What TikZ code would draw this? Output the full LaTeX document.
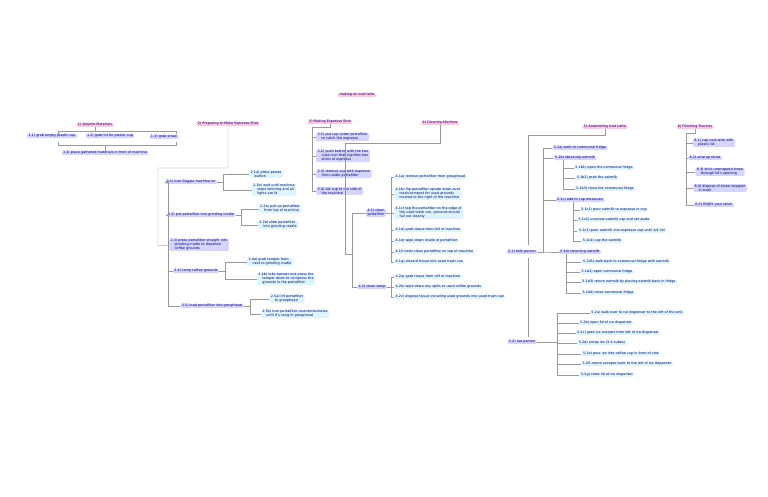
\documentclass[tikz,border=0pt]{standalone}
\usepackage{fontspec}
\setmainfont{DejaVu Sans}
\begin{document}
\begin{tikzpicture}[x=1pt,y=-1pt,
 every node/.style={font=\fontsize{3.4}{4.0}\selectfont,text=blue!35!black,inner xsep=1.5pt,inner ysep=0.6pt,rounded corners=1.5pt,align=left},
 top/.style={fill=magenta!22},
 mid/.style={fill=blue!17},
 leaf/.style={fill=cyan!13},
 ln/.style={draw=gray!80,line width=0.45pt}]
\fill[white] (0,0) rectangle (768,497);
\node[top] (t) at (357,95) {making an iced latte};
% 1
\node[top] (a) at (95,125) {1) Acquire Materials};
\node[mid] (a1) at (52,136) {1.1) grab empty plastic cup};
\node[mid] (a2) at (110,136) {1.2) grab lid for plastic cup};
\node[mid] (a3) at (164,137) {1.3) grab straw};
\node[mid] (a4) at (105,153) {1.4) place gathered materials in front of machine};
\coordinate (ab1) at (58,131); \coordinate (ab2) at (176,131);
\draw[ln] (a.south) -- (a.south|-ab1);
\draw[ln] (ab1)++(0,3) -- (ab1) -- (ab2) -- ++(0,3);
\coordinate (ac1) at (58,145); \coordinate (ac2) at (176,145);
\draw[ln] (ac1)++(0,-3) -- (ac1) -- (ac2) -- ++(0,-3);
\draw[ln] (a4.north|-ac1) -- (a4.north);
% 2
\node[top] (b) at (228,124) {2) Preparing to Make Espresso Shot};
\node[mid] (b1) at (191,182) {2.1) turn Gaggia machine on};
\node[mid] (b2) at (201,215) {2.2) put portafilter into grinding cradle};
\node[mid] (b3) at (199,245) {2.3) press portafilter straight into\\\hspace*{4pt}grinding cradle to dispense\\\hspace*{4pt}coffee grounds};
\node[mid] (b4) at (196,271) {2.4) tamp coffee grounds};
\node[mid] (b5) at (212,306) {2.5) load portafilter into grouphead};
\coordinate (bs) at (158,168);
\draw[ln] (b.south) |- (bs) -- (158,246) -- (b3.west);
\coordinate (bs2) at (168,180);
\draw[ln] (bs2) -- (168,306) -- (b5.west);
\foreach \n in {b1,b2,b4} \draw[ln] (bs2|-\n.west) -- (\n.west);
\node[leaf] (b11) at (266,174) {2.1a) press power\\\hspace*{4pt}button};
\node[leaf] (b12) at (274,190) {2.1b) wait until machine\\\hspace*{4pt}stops whirring and all\\\hspace*{4pt}lights are lit};
\node[leaf] (b21) at (280,209) {2.2a) pull up portafilter\\\hspace*{4pt}from top of machine};
\node[leaf] (b22) at (278,225) {2.2b) slide portafilter\\\hspace*{4pt}into grinding cradle};
\node[leaf] (b41) at (270,262) {2.4a) grab tamper from\\\hspace*{4pt}next to grinding cradle};
\node[leaf] (b42) at (286,279) {2.4b) take tamper and press the\\\hspace*{4pt}tamper down to compress the\\\hspace*{4pt}grounds in the portafilter};
\node[leaf] (b51) at (287,299) {2.5a) lift portafilter\\\hspace*{4pt}to grouphead};
\node[leaf] (b52) at (295,314) {2.5b) turn portafilter counterclockwise\\\hspace*{4pt}until it's snug in grouphead};
\foreach \p/\c in {b1/b11,b1/b12,b2/b21,b2/b22,b4/b41,b4/b42,b5/b51,b5/b52}
 \draw[ln] (\p.east) -- ++(6,0) |- (\c.west);
% 3
\node[top] (c) at (330,122) {3) Making Espresso Shot};
\node[mid,anchor=west] (c1) at (316,137) {3.1) put cup under portafilter\\\hspace*{4pt}to catch the espresso};
\node[mid,anchor=west] (c2) at (316,156) {3.2) push button with the two\\\hspace*{4pt}cups icon that signifies two\\\hspace*{4pt}shots of espresso};
\node[mid,anchor=west] (c3) at (316,174) {3.3) remove cup with espresso\\\hspace*{4pt}from under portafilter};
\node[mid,anchor=west] (c4) at (316,191) {3.4) set cup to the side of\\\hspace*{4pt}the machine};
\draw[ln] (c.south) -- ++(0,3) -| (312,191) -- (c4.west);
\foreach \n in {c1,c2,c3} \draw[ln] (312,0|-\n.west) -- (\n.west);
% 4
\node[top] (d) at (440,123) {4) Cleaning Machine};
\node[mid] (d1) at (376,213) {4.1) clean\\portafilter};
\node[mid] (d2) at (372,287) {4.2) clean tamp};
\draw[ln] (d.south) -- ++(0,18) -| (345,254) -- (352,254) |- (d2.west);
\draw[ln] (352,254) |- (d1.west);
\foreach \n/\y/\t in {d11/177/{4.1a) remove portafilter from grouphead},
 d12/194/{4.1b) flip portafilter upside down over\\\hspace*{4pt}trash/compost for used grounds\\\hspace*{4pt}located to the right of the machine},
 d13/213/{4.1c) tap the portafilter on the edge of\\\hspace*{4pt}the used trash can, grounds should\\\hspace*{4pt}fall out cleanly},
 d14/230/{4.1d) grab tissue from left of machine},
 d15/241/{4.1e) wipe down inside of portafilter},
 d16/252/{4.1f) twist clean portafilter on top of machine},
 d17/262/{4.1g) discard tissue into used trash can},
 d21/277/{4.2a) grab tissue from left of machine},
 d22/287/{4.2b) wipe down any spills or used coffee grounds},
 d23/297/{4.2c) dispose tissue including used grounds into used trash can}}
 \node[leaf,anchor=west] (\n) at (394,\y) {\t};
\foreach \c in {d11,d12,d13,d14,d15,d16,d17} \draw[ln] (d1.east) -- (391,0|-d1.east) |- (\c.west);
\foreach \c in {d21,d22,d23} \draw[ln] (d2.east) -- (391,0|-d2.east) |- (\c.west);
% 5
\node[top] (e) at (605,127) {5) Assembling Iced Latte};
\node[mid] (e1) at (522,252) {5.1) milk person};
\node[mid] (e2) at (522,342) {5.2) oat person};
\draw[ln] (e.south) -- ++(0,6) -| (528,245);
\draw[ln] (528,258) -- (528,337);
\node[mid] (e1a) at (580,148) {5.1a) walk to communal fridge};
\node[mid] (e1b) at (575,158) {5.1b) obtaining oatmilk};
\node[mid] (e1c) at (580,200) {5.1c) add to cup measures};
\node[mid] (e1d) at (580,252) {5.1d) returning oatmilk};
\foreach \c in {e1a,e1b,e1c,e1d} \draw[ln] (e1.east) -- ++(6,0) |- (\c.west);
\node[leaf] (e1b1) at (604,168) {5.1b1) open the communal fridge};
\node[leaf] (e1b2) at (597,178) {5.1b2) grab the oatmilk};
\node[leaf] (e1b3) at (605,189) {5.1b3) close the communal fridge};
\foreach \c in {e1b1,e1b2,e1b3} \draw[ln] (e1b.south-|563,0) |- (\c.west);
\node[leaf] (e1c1) at (614,210) {5.1c1) pour oatmilk to espresso in cup};
\node[leaf] (e1c2) at (614,220) {5.1c2) unscrew oatmilk cap and set aside};
\node[leaf] (e1c3) at (622,231) {5.1c3) pour oatmilk into espresso cup until 3/4 full};
\node[leaf] (e1c4) at (602,241) {5.1c4) cap the oatmilk};
\foreach \c in {e1c1,e1c2,e1c3,e1c4} \draw[ln] (e1c.south-|573,0) |- (\c.west);
\node[leaf] (e1d1) at (626,262) {5.1d1) walk back to communal fridge with oatmilk};
\node[leaf] (e1d2) at (607,272) {5.1d2) open communal fridge};
\node[leaf] (e1d3) at (629,282) {5.1d3) return oatmilk by placing oatmilk back in fridge};
\node[leaf] (e1d4) at (608,293) {5.1d4) close communal fridge};
\foreach \c in {e1d1,e1d2,e1d3,e1d4} \draw[ln] (e1d.south-|566,0) |- (\c.west);
\node[leaf] (e21) at (637,313) {5.2a) walk over to ice dispenser to the left of the sink};
\node[leaf] (e22) at (606,323) {5.2b) open lid of ice dispenser};
\node[leaf] (e23) at (618,333) {5.2c) grab ice scooper from left of ice dispenser};
\node[leaf] (e24) at (602,343) {5.2d) scoop ice (3-4 cubes)};
\node[leaf] (e25) at (621,354) {5.2e) pour ice into coffee cup in front of sink};
\node[leaf] (e26) at (627,364) {5.2f) return scooper back to the left of ice dispenser};
\node[leaf] (e27) at (607,375) {5.2g) close lid of ice dispenser};
\foreach \c in {e21,e22,e23,e24,e25,e26,e27} \draw[ln] (e2.east) -- ++(20,0) |- (\c.west);
% 6
\node[top] (f) at (695,127) {6) Finishing Touches};
\node[mid] (f1) at (714,143) {6.1) cap iced latte with\\\hspace*{4pt}plastic lid};
\node[mid] (f2) at (705,158) {6.2) unwrap straw};
\node[mid] (f3) at (720,172) {6.3) stick unwrapped straw\\\hspace*{4pt}through lid's opening};
\node[mid] (f4) at (720,188) {6.4) dispose of straw wrapper\\\hspace*{4pt}in trash};
\node[mid] (f5) at (714,205) {6.5) ENJOY your latte!};
\draw[ln] (f.south) -- ++(0,4) -| (686,205) -- (f5.west);
\foreach \n in {f1,f2,f3,f4} \draw[ln] (686,0|-\n.west) -- (\n.west);
\end{tikzpicture}
\end{document}
